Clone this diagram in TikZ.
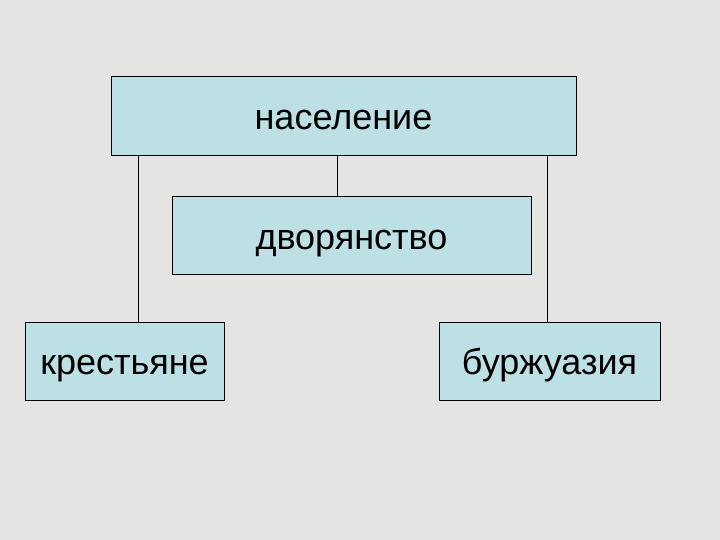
\documentclass[tikz,border=0pt]{standalone}
\usepackage{fontspec}
\setmainfont{Liberation Sans}
\usepackage{tikz}
\usetikzlibrary{calc}

\definecolor{paper}{RGB}{228,228,226}
\definecolor{boxblue}{RGB}{189,224,228}

\tikzset{
  classbox/.style={draw=black,line width=1pt,fill=boxblue,inner sep=0pt,
    text height=27pt,text depth=0pt,font=\fontsize{36}{40}\selectfont},
  link/.style={draw=black,line width=1pt}
}

\begin{document}
\begin{tikzpicture}[x=1pt,y=-1pt]
  \fill[paper] (0,0) rectangle (720,540);
  \useasboundingbox (0,0) rectangle (720,540);
  \node[classbox,minimum width=465pt,minimum height=79pt] (pop) at (343.5,116.5) {население};
  \node[classbox,minimum width=359pt,minimum height=78pt] (noble) at (351.5,235.5) {дворянство};
  \node[classbox,minimum width=199pt,minimum height=78pt] (peasant) at (124.5,361) {крестьяне};
  \node[classbox,minimum width=221pt,minimum height=78pt] (bourg) at (549.5,361) {буржуазия};
  % vertical links below the top box
  \coordinate (lft) at ($(pop.south west)+(28,0)$);
  \coordinate (mid) at ($(pop.south)+(-6.5,0)$);
  \coordinate (rgt) at ($(pop.south)+(203.5,0)$);
  \draw[link] (lft) -- (lft |- peasant.north);
  \draw[link] (mid) -- (mid |- noble.north);
  \draw[link] (rgt) -- (rgt |- bourg.north);
\end{tikzpicture}
\end{document}
